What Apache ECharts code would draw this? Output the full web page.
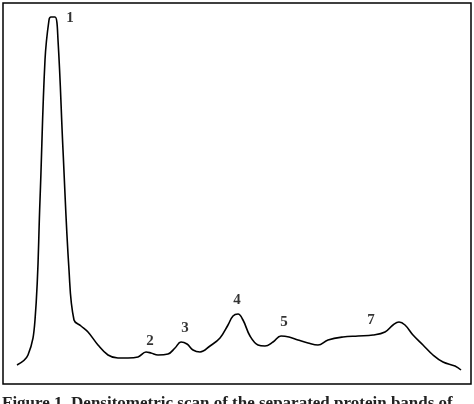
<!DOCTYPE html>
<html><head><meta charset="utf-8">
<script src="https://cdn.jsdelivr.net/npm/echarts@6/dist/echarts.min.js"></script>
<style>html,body{margin:0;padding:0;background:#fff;overflow:hidden}#c{width:474px;height:404px}</style>
</head><body><div id="c"></div>
<script>
// trace x positions and signal heights
const traceX = [14,25,32,37,42,46,48,52,55,60,66,71,78,85,95,105,115,125,135,143,148,155,165,172,178,184,190,197,207,217,225,230,235,240,247,255,262,270,278,286,295,305,315,325,340,355,370,382,390,396,402,410,420,430,440,452,458];
const traceY = [19,29,64,184,324,364,367,367,344,234,114,64,58,52,39,29,26,26,27,32,31,29,30,36,42,40,34,32,38,46,59,68,70,64,48,39,38,42,48,47,44,41,39,44,47,48,49,52,59,62,59,49,39,29,22,18,14];
// peak labels
const peakNames = ['1','2','3','4','5','7'];
const peakX = [67,147,182,234,281,368];
const peakY = [366,43,56,84,62,64];

const chart = echarts.init(document.getElementById('c'));
chart.setOption({
    animation: false,
    grid: { left: 3, right: 3, top: 3, bottom: 20, show: true, borderColor: '#000', borderWidth: 1.5 },
    xAxis: { type: 'value', min: 0, max: 468, show: false },
    yAxis: { type: 'value', min: 0, max: 381, show: false },
    series: [
        {
            type: 'line',
            data: traceX.map((x, i) => [x, traceY[i]]),
            smooth: 0.4,
            showSymbol: false,
            lineStyle: { color: '#000', width: 1.6 }
        },
        {
            type: 'scatter',
            symbolSize: 0,
            data: peakX.map((x, i) => ({ value: [x, peakY[i]], name: peakNames[i] })),
            label: {
                show: true, position: 'inside', formatter: p => p.name,
                fontFamily: 'Liberation Serif', fontWeight: 'bold', fontSize: 15, color: '#000'
            }
        }
    ],
    graphic: [{
        type: 'text', left: 2, top: 395,
        style: { text: 'Figure 1. Densitometric scan of the separated protein bands of', fontFamily: 'Liberation Serif', fontSize: 17, fontWeight: 'bold', fill: '#222' }
    }]
});
</script></body></html>
